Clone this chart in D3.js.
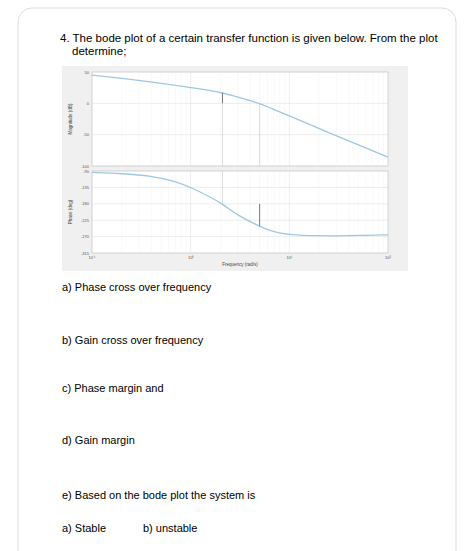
<!DOCTYPE html>
<html><head><meta charset="utf-8">
<script src="https://cdn.jsdelivr.net/npm/d3@7"></script>
<style>body{margin:0;background:#fff;font-family:Arial,"Liberation Sans",sans-serif}</style>
</head><body>
<script>
var freqs = [0.1, 0.2, 0.4, 0.7, 1, 1.5, 2.1, 3, 5, 7, 10, 20, 30, 50, 100];
var magDb = [45, 40, 34, 29, 25, 21, 17, 10, 0, -10, -20, -40, -52, -66, -86];
var phaseDeg = [-94, -97, -103, -118, -135, -158, -180, -212, -242, -258, -265, -268, -268, -267, -265];
var magTicks = [50, 0, -50, -100];
var phaseTicks = [-90, -135, -180, -225, -270, -315];
var questions = ["a) Phase cross over frequency", "b) Gain cross over frequency", "c) Phase margin and", "d) Gain margin", "e) Based on the bode plot the system is"];
var qY = [291, 344, 392, 444, 499];

var svg = d3.select("body").append("svg").attr("width", 474).attr("height", 551);
svg.append("rect").attr("x", 18).attr("y", 8).attr("width", 438).attr("height", 560).attr("rx", 14)
  .attr("fill", "#fff").attr("stroke", "#ddd");

svg.append("text").attr("x", 60).attr("y", 42).attr("font-size", 11.5).text("4. The bode plot of a certain transfer function is given below. From the plot");
svg.append("text").attr("x", 72).attr("y", 55).attr("font-size", 11.5).text("determine;");

svg.append("rect").attr("x", 62).attr("y", 66).attr("width", 346).attr("height", 205).attr("fill", "#f0f0f0");

var x = d3.scaleLog().domain([0.1, 100]).range([92, 388]);
var yMag = d3.scaleLinear().domain([-100, 50]).range([166, 72]);
var yPh = d3.scaleLinear().domain([-315, -90]).range([253, 171]);

function panel(y, ticks, data, label) {
  var g = svg.append("g");
  g.append("rect").attr("x", 92).attr("y", y.range()[1]).attr("width", 296)
    .attr("height", y.range()[0] - y.range()[1]).attr("fill", "#fff").attr("stroke", "#bbb").attr("stroke-width", 0.6);
  var minor = [];
  [0.1, 1, 10].forEach(function(d) { for (var k = 1; k < 10; k++) minor.push(d * k); });
  g.selectAll(".vg").data(minor).enter().append("line")
    .attr("x1", d => x(d)).attr("x2", d => x(d)).attr("y1", y.range()[1]).attr("y2", y.range()[0])
    .attr("stroke", (d, i) => i % 9 === 0 ? "#dcdcdc" : "#f2f2f2").attr("stroke-width", 0.5);
  g.selectAll(".hg").data(ticks).enter().append("line")
    .attr("x1", 92).attr("x2", 388).attr("y1", d => y(d)).attr("y2", d => y(d))
    .attr("stroke", "#e0e0e0").attr("stroke-width", 0.6);
  g.selectAll(".tl").data(ticks).enter().append("text")
    .attr("x", 89).attr("y", d => y(d) + 1.5).attr("text-anchor", "end").attr("font-size", 4).attr("fill", "#555")
    .text(d => d);
  g.append("text").attr("transform", "translate(72," + ((y.range()[0] + y.range()[1]) / 2) + ") rotate(-90)")
    .attr("text-anchor", "middle").attr("font-size", 4.5).attr("fill", "#444").text(label);
  g.append("path").datum(data)
    .attr("d", d3.line().x((d, i) => x(freqs[i])).y(d => y(d)).curve(d3.curveBasis))
    .attr("fill", "none").attr("stroke", "#9fc8e0").attr("stroke-width", 1.3);
  return g;
}
panel(yMag, magTicks, magDb, "Magnitude (dB)");
panel(yPh, phaseTicks, phaseDeg, "Phase (deg)");

// margin markers
svg.append("line").attr("x1", x(2.1)).attr("x2", x(2.1)).attr("y1", yMag(17)).attr("y2", yMag(0)).attr("stroke", "#777").attr("stroke-width", 1);
svg.append("line").attr("x1", x(2.1)).attr("x2", x(2.1)).attr("y1", yMag(0)).attr("y2", yMag(-100)).attr("stroke", "#bbb").attr("stroke-width", 0.5);
svg.append("line").attr("x1", x(5)).attr("x2", x(5)).attr("y1", yMag(0)).attr("y2", yMag(-100)).attr("stroke", "#bbb").attr("stroke-width", 0.5);
svg.append("line").attr("x1", x(2.1)).attr("x2", x(2.1)).attr("y1", yPh(-90)).attr("y2", yPh(-180)).attr("stroke", "#bbb").attr("stroke-width", 0.5);
svg.append("line").attr("x1", x(5)).attr("x2", x(5)).attr("y1", yPh(-180)).attr("y2", yPh(-242)).attr("stroke", "#777").attr("stroke-width", 1);

svg.selectAll(".xt").data([0.1, 1, 10, 100]).enter().append("text")
  .attr("x", d => x(d)).attr("y", 259).attr("text-anchor", "middle").attr("font-size", 4).attr("fill", "#555")
  .text(d => "10" + ["\u207B\u00B9", "\u2070", "\u00B9", "\u00B2"][Math.round(Math.log10(d)) + 1]);
svg.append("text").attr("x", 240).attr("y", 266).attr("text-anchor", "middle").attr("font-size", 4.5).attr("fill", "#444").text("Frequency  (rad/s)");

svg.selectAll(".q").data(questions).enter().append("text")
  .attr("x", 62).attr("y", (d, i) => qY[i]).attr("font-size", 11).text(d => d);
svg.append("text").attr("x", 62).attr("y", 532).attr("font-size", 11).text("a) Stable");
svg.append("text").attr("x", 143).attr("y", 532).attr("font-size", 11).text("b) unstable");
</script>
</body></html>
